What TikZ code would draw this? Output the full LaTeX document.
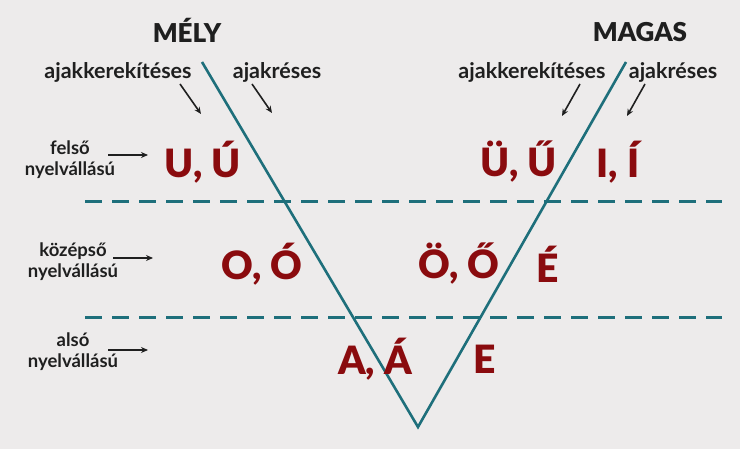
\documentclass[tikz,border=0pt]{standalone}
\usepackage{fontspec}
\setmainfont{Lato}
\newfontfamily\heavy{Lato Black}
\usetikzlibrary{arrows.meta}
\definecolor{bgc}{HTML}{EDEBEB}
\definecolor{teal1}{HTML}{1E6F7B}
\definecolor{vred}{HTML}{8A0B0E}
\begin{document}
\begin{tikzpicture}[x=1pt,y=-1pt,
  lbl/.style={font=\fontsize{21.5}{24}\selectfont\bfseries, text=black!88, inner sep=0pt},
  hdr/.style={font=\fontsize{26}{28}\heavy, text=black!88, inner sep=0pt},
  side/.style={font=\fontsize{18.5}{21}\selectfont\bfseries, text=black!88, align=center, inner sep=0pt},
  vow/.style={font=\fontsize{39}{42}\heavy, text=vred, inner sep=0pt},
  arr/.style={-{Stealth[length=7pt,width=6pt]}, line width=1.6pt, black!88},
  vline/.style={teal1, line width=2.6pt},
  dline/.style={teal1, line width=3pt, dash pattern=on 17pt off 10pt}]
\fill[bgc] (0,0) rectangle (740,449);
\useasboundingbox (0,0) rectangle (740,449);
% V
\coordinate (lt) at (202,62);
\coordinate (vb) at (418,427);
\coordinate (rt) at (626,62);
\draw[vline, line join=miter] (lt) -- (vb) -- (rt);
% dashed lines
\coordinate (d1a) at (85,202); \coordinate (d1b) at (722,202);
\coordinate (d2a) at (85,318); \coordinate (d2b) at (722,318);
\draw[dline] (d1a) -- (d1b);
\draw[dline] (d2a) -- (d2b);
% headers
\node[hdr] (mely) at (187,30) {MÉLY};
\node[hdr] (magas) at (640,32) {MAGAS};
% labels
\node[lbl] (l1) at (118,72) {ajakkerekítéses};
\node[lbl] (l2) at (277,72) {ajakréses};
\node[lbl] (r1) at (532,72) {ajakkerekítéses};
\node[lbl] (r2) at (673,72) {ajakréses};
\coordinate (a1s) at (180,84); \coordinate (a1e) at (201,114);
\coordinate (a2s) at (252,84); \coordinate (a2e) at (272,113);
\coordinate (a3s) at (580,84); \coordinate (a3e) at (562,116);
\coordinate (a4s) at (645,84); \coordinate (a4e) at (627,116);
\draw[arr] (a1s) -- (a1e);
\draw[arr] (a2s) -- (a2e);
\draw[arr] (a3s) -- (a3e);
\draw[arr] (a4s) -- (a4e);
% side labels
\node[side] (s1) at (70,160) {felső\\nyelvállású};
\node[side] (s2) at (73,262) {középső\\nyelvállású};
\node[side] (s3) at (73,352) {alsó\\nyelvállású};
\coordinate (b1s) at (108,155); \coordinate (b1e) at (148,155);
\coordinate (b2s) at (113,258); \coordinate (b2e) at (153,258);
\coordinate (b3s) at (108,350); \coordinate (b3e) at (148,350);
\draw[arr] (b1s) -- (b1e);
\draw[arr] (b2s) -- (b2e);
\draw[arr] (b3s) -- (b3e);
% vowels
\node[vow] (uu) at (203,162) {U, Ú};
\node[vow] (yy) at (519,162) {Ü, Ű};
\node[vow] (ii) at (618,162) {I, Í};
\node[vow] (oo) at (262,264) {O, Ó};
\node[vow] (ooe) at (459,264) {Ö, Ő};
\node[vow] (ee) at (548,264) {É};
\node[vow] (aa) at (375,359) {A, Á};
\node[vow] (e) at (485,359) {E};
\end{tikzpicture}
\end{document}
